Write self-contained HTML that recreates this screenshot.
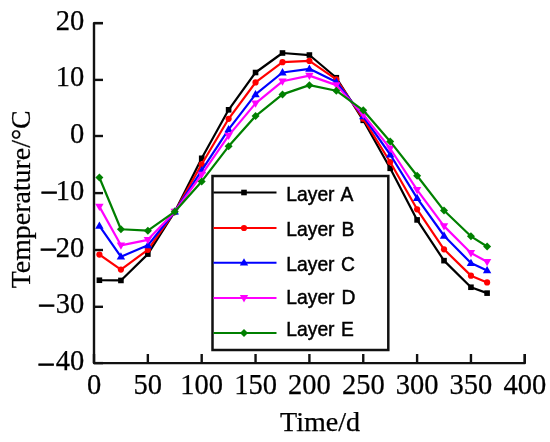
<!DOCTYPE html>
<html><head><meta charset="utf-8"><style>
html,body{margin:0;padding:0;background:#fff;}
body{width:550px;height:442px;overflow:hidden;}
svg{display:block;}
.w{width:550px;height:442px;}
.s{font-family:"Liberation Serif","Times New Roman",serif;font-size:28.5px;fill:#000;stroke:#000;stroke-width:0.25px;}
.m{stroke-width:0.9px;}
.l{font-family:"Liberation Sans",Arial,sans-serif;font-size:19.3px;fill:#000;stroke:#000;stroke-width:0.45px;}
.t{font-family:"Liberation Serif","Times New Roman",serif;font-size:27.9px;fill:#000;stroke:#000;stroke-width:0.25px;}
</style></head><body>
<div class="w"><svg width="550" height="442" viewBox="0 0 550 442"><rect width="550" height="442" fill="#fff"/>
<polyline points="99.39,280.23 120.92,280.45 147.85,254.09 174.77,211.71 201.70,158.29 228.62,109.80 255.55,72.51 282.48,52.99 309.40,55.03 336.32,77.72 363.25,120.32 390.18,168.31 417.10,219.91 444.02,260.65 470.95,287.24 487.10,293.13" fill="none" stroke="#000000" stroke-width="2.2" stroke-linejoin="round"/>
<rect x="96.59" y="277.43" width="5.60" height="5.60" fill="#000000"/>
<rect x="118.12" y="277.65" width="5.60" height="5.60" fill="#000000"/>
<rect x="145.05" y="251.29" width="5.60" height="5.60" fill="#000000"/>
<rect x="171.97" y="208.91" width="5.60" height="5.60" fill="#000000"/>
<rect x="198.90" y="155.49" width="5.60" height="5.60" fill="#000000"/>
<rect x="225.82" y="107.00" width="5.60" height="5.60" fill="#000000"/>
<rect x="252.75" y="69.71" width="5.60" height="5.60" fill="#000000"/>
<rect x="279.68" y="50.19" width="5.60" height="5.60" fill="#000000"/>
<rect x="306.60" y="52.23" width="5.60" height="5.60" fill="#000000"/>
<rect x="333.52" y="74.92" width="5.60" height="5.60" fill="#000000"/>
<rect x="360.45" y="117.52" width="5.60" height="5.60" fill="#000000"/>
<rect x="387.38" y="165.51" width="5.60" height="5.60" fill="#000000"/>
<rect x="414.30" y="217.11" width="5.60" height="5.60" fill="#000000"/>
<rect x="441.22" y="257.85" width="5.60" height="5.60" fill="#000000"/>
<rect x="468.15" y="284.44" width="5.60" height="5.60" fill="#000000"/>
<rect x="484.30" y="290.33" width="5.60" height="5.60" fill="#000000"/>
<polyline points="99.39,254.54 120.92,269.59 147.85,249.79 174.77,211.71 201.70,164.29 228.62,118.80 255.55,82.41 282.48,62.21 309.40,60.91 336.32,79.30 363.25,118.63 390.18,162.03 417.10,209.33 444.02,249.33 470.95,275.64 487.10,282.43" fill="none" stroke="#ff0000" stroke-width="2.2" stroke-linejoin="round"/>
<circle cx="99.39" cy="254.54" r="3.1" fill="#ff0000"/>
<circle cx="120.92" cy="269.59" r="3.1" fill="#ff0000"/>
<circle cx="147.85" cy="249.79" r="3.1" fill="#ff0000"/>
<circle cx="174.77" cy="211.71" r="3.1" fill="#ff0000"/>
<circle cx="201.70" cy="164.29" r="3.1" fill="#ff0000"/>
<circle cx="228.62" cy="118.80" r="3.1" fill="#ff0000"/>
<circle cx="255.55" cy="82.41" r="3.1" fill="#ff0000"/>
<circle cx="282.48" cy="62.21" r="3.1" fill="#ff0000"/>
<circle cx="309.40" cy="60.91" r="3.1" fill="#ff0000"/>
<circle cx="336.32" cy="79.30" r="3.1" fill="#ff0000"/>
<circle cx="363.25" cy="118.63" r="3.1" fill="#ff0000"/>
<circle cx="390.18" cy="162.03" r="3.1" fill="#ff0000"/>
<circle cx="417.10" cy="209.33" r="3.1" fill="#ff0000"/>
<circle cx="444.02" cy="249.33" r="3.1" fill="#ff0000"/>
<circle cx="470.95" cy="275.64" r="3.1" fill="#ff0000"/>
<circle cx="487.10" cy="282.43" r="3.1" fill="#ff0000"/>
<polyline points="99.39,225.96 120.92,256.69 147.85,245.32 174.77,211.71 201.70,170.40 228.62,129.38 255.55,94.30 282.48,72.51 309.40,68.83 336.32,82.02 363.25,116.36 390.18,154.50 417.10,198.18 444.02,235.75 470.95,263.03 487.10,270.44" fill="none" stroke="#0000ff" stroke-width="2.2" stroke-linejoin="round"/>
<polygon points="99.39,221.56 103.59,228.86 95.19,228.86" fill="#0000ff"/>
<polygon points="120.92,252.29 125.12,259.59 116.72,259.59" fill="#0000ff"/>
<polygon points="147.85,240.92 152.05,248.22 143.65,248.22" fill="#0000ff"/>
<polygon points="174.77,207.31 178.97,214.61 170.57,214.61" fill="#0000ff"/>
<polygon points="201.70,166.00 205.90,173.30 197.50,173.30" fill="#0000ff"/>
<polygon points="228.62,124.98 232.82,132.28 224.43,132.28" fill="#0000ff"/>
<polygon points="255.55,89.89 259.75,97.20 251.35,97.20" fill="#0000ff"/>
<polygon points="282.48,68.11 286.68,75.41 278.28,75.41" fill="#0000ff"/>
<polygon points="309.40,64.43 313.60,71.73 305.20,71.73" fill="#0000ff"/>
<polygon points="336.32,77.62 340.52,84.92 332.12,84.92" fill="#0000ff"/>
<polygon points="363.25,111.96 367.45,119.26 359.05,119.26" fill="#0000ff"/>
<polygon points="390.18,150.10 394.38,157.40 385.98,157.40" fill="#0000ff"/>
<polygon points="417.10,193.78 421.30,201.08 412.90,201.08" fill="#0000ff"/>
<polygon points="444.02,231.35 448.22,238.65 439.82,238.65" fill="#0000ff"/>
<polygon points="470.95,258.63 475.15,265.93 466.75,265.93" fill="#0000ff"/>
<polygon points="487.10,266.04 491.30,273.34 482.90,273.34" fill="#0000ff"/>
<polyline points="99.39,206.61 120.92,245.32 147.85,239.83 174.77,211.71 201.70,174.64 228.62,135.60 255.55,103.35 282.48,81.28 309.40,75.62 336.32,85.13 363.25,114.66 390.18,148.50 417.10,189.81 444.02,226.13 470.95,253.01 487.10,261.78" fill="none" stroke="#ff00ff" stroke-width="2.2" stroke-linejoin="round"/>
<polygon points="99.39,211.01 103.59,203.71 95.19,203.71" fill="#ff00ff"/>
<polygon points="120.92,249.72 125.12,242.42 116.72,242.42" fill="#ff00ff"/>
<polygon points="147.85,244.23 152.05,236.93 143.65,236.93" fill="#ff00ff"/>
<polygon points="174.77,216.11 178.97,208.81 170.57,208.81" fill="#ff00ff"/>
<polygon points="201.70,179.04 205.90,171.74 197.50,171.74" fill="#ff00ff"/>
<polygon points="228.62,140.00 232.82,132.70 224.43,132.70" fill="#ff00ff"/>
<polygon points="255.55,107.75 259.75,100.45 251.35,100.45" fill="#ff00ff"/>
<polygon points="282.48,85.68 286.68,78.38 278.28,78.38" fill="#ff00ff"/>
<polygon points="309.40,80.02 313.60,72.72 305.20,72.72" fill="#ff00ff"/>
<polygon points="336.32,89.53 340.52,82.23 332.12,82.23" fill="#ff00ff"/>
<polygon points="363.25,119.06 367.45,111.76 359.05,111.76" fill="#ff00ff"/>
<polygon points="390.18,152.90 394.38,145.60 385.98,145.60" fill="#ff00ff"/>
<polygon points="417.10,194.21 421.30,186.91 412.90,186.91" fill="#ff00ff"/>
<polygon points="444.02,230.53 448.22,223.23 439.82,223.23" fill="#ff00ff"/>
<polygon points="470.95,257.41 475.15,250.11 466.75,250.11" fill="#ff00ff"/>
<polygon points="487.10,266.18 491.30,258.88 482.90,258.88" fill="#ff00ff"/>
<polyline points="99.39,177.47 120.92,229.25 147.85,230.66 174.77,211.71 201.70,181.43 228.62,146.35 255.55,116.08 282.48,94.41 309.40,85.13 336.32,90.73 363.25,110.31 390.18,141.43 417.10,175.78 444.02,210.57 470.95,236.32 487.10,246.50" fill="none" stroke="#008000" stroke-width="2.2" stroke-linejoin="round"/>
<polygon points="99.39,173.47 103.39,177.47 99.39,181.47 95.39,177.47" fill="#008000"/>
<polygon points="120.92,225.25 124.92,229.25 120.92,233.25 116.92,229.25" fill="#008000"/>
<polygon points="147.85,226.66 151.85,230.66 147.85,234.66 143.85,230.66" fill="#008000"/>
<polygon points="174.77,207.71 178.77,211.71 174.77,215.71 170.77,211.71" fill="#008000"/>
<polygon points="201.70,177.43 205.70,181.43 201.70,185.43 197.70,181.43" fill="#008000"/>
<polygon points="228.62,142.35 232.62,146.35 228.62,150.35 224.62,146.35" fill="#008000"/>
<polygon points="255.55,112.08 259.55,116.08 255.55,120.08 251.55,116.08" fill="#008000"/>
<polygon points="282.48,90.41 286.48,94.41 282.48,98.41 278.48,94.41" fill="#008000"/>
<polygon points="309.40,81.13 313.40,85.13 309.40,89.13 305.40,85.13" fill="#008000"/>
<polygon points="336.32,86.73 340.32,90.73 336.32,94.73 332.32,90.73" fill="#008000"/>
<polygon points="363.25,106.31 367.25,110.31 363.25,114.31 359.25,110.31" fill="#008000"/>
<polygon points="390.18,137.43 394.18,141.43 390.18,145.43 386.18,141.43" fill="#008000"/>
<polygon points="417.10,171.78 421.10,175.78 417.10,179.78 413.10,175.78" fill="#008000"/>
<polygon points="444.02,206.57 448.02,210.57 444.02,214.57 440.02,210.57" fill="#008000"/>
<polygon points="470.95,232.32 474.95,236.32 470.95,240.32 466.95,236.32" fill="#008000"/>
<polygon points="487.10,242.50 491.10,246.50 487.10,250.50 483.10,246.50" fill="#008000"/>
<path d="M103.00,23.1 H94.00 V363.1 H524.80 V354" fill="none" stroke="#111" stroke-width="2.4" stroke-linejoin="round"/>
<line x1="94.00" y1="363.10" x2="103.00" y2="363.10" stroke="#111" stroke-width="2.4"/>
<text class="s" x="84.3" y="370.12" text-anchor="end"><tspan class="m" dy="1.5">–</tspan><tspan dx="2.6" dy="-1.5">40</tspan></text>
<line x1="94.00" y1="306.80" x2="103.00" y2="306.80" stroke="#111" stroke-width="2.4"/>
<text class="s" x="84.3" y="313.35" text-anchor="end"><tspan class="m" dy="0.05">–</tspan><tspan dx="2.0" dy="-0.05">30</tspan></text>
<line x1="94.00" y1="250.00" x2="103.00" y2="250.00" stroke="#111" stroke-width="2.4"/>
<text class="s" x="84.3" y="256.58" text-anchor="end"><tspan class="m" dy="0.7">–</tspan><tspan dx="0.4" dy="-0.7">20</tspan></text>
<line x1="94.00" y1="193.10" x2="103.00" y2="193.10" stroke="#111" stroke-width="2.4"/>
<text class="s" x="84.3" y="199.81" text-anchor="end"><tspan class="m" dy="0.0">–</tspan><tspan dx="-0.4" dy="-0.0">10</tspan></text>
<line x1="94.00" y1="136.00" x2="103.00" y2="136.00" stroke="#111" stroke-width="2.4"/>
<text class="s" x="84.3" y="143.04" text-anchor="end">0</text>
<line x1="94.00" y1="79.90" x2="103.00" y2="79.90" stroke="#111" stroke-width="2.4"/>
<text class="s" x="84.3" y="86.27" text-anchor="end">10</text>
<line x1="94.00" y1="23.10" x2="103.00" y2="23.10" stroke="#111" stroke-width="2.4"/>
<text class="s" x="84.3" y="29.50" text-anchor="end">20</text>
<line x1="94.00" y1="363.1" x2="94.00" y2="354" stroke="#111" stroke-width="2.4"/>
<text class="s" x="94.00" y="394.2" text-anchor="middle">0</text>
<line x1="147.85" y1="363.1" x2="147.85" y2="354" stroke="#111" stroke-width="2.4"/>
<text class="s" x="147.85" y="394.2" text-anchor="middle">50</text>
<line x1="201.70" y1="363.1" x2="201.70" y2="354" stroke="#111" stroke-width="2.4"/>
<text class="s" x="201.70" y="394.2" text-anchor="middle">100</text>
<line x1="255.55" y1="363.1" x2="255.55" y2="354" stroke="#111" stroke-width="2.4"/>
<text class="s" x="255.55" y="394.2" text-anchor="middle">150</text>
<line x1="309.40" y1="363.1" x2="309.40" y2="354" stroke="#111" stroke-width="2.4"/>
<text class="s" x="309.40" y="394.2" text-anchor="middle">200</text>
<line x1="363.25" y1="363.1" x2="363.25" y2="354" stroke="#111" stroke-width="2.4"/>
<text class="s" x="363.25" y="394.2" text-anchor="middle">250</text>
<line x1="417.10" y1="363.1" x2="417.10" y2="354" stroke="#111" stroke-width="2.4"/>
<text class="s" x="417.10" y="394.2" text-anchor="middle">300</text>
<line x1="470.95" y1="363.1" x2="470.95" y2="354" stroke="#111" stroke-width="2.4"/>
<text class="s" x="470.95" y="394.2" text-anchor="middle">350</text>
<line x1="524.80" y1="363.1" x2="524.80" y2="354" stroke="#111" stroke-width="2.4"/>
<text class="s" x="524.80" y="394.2" text-anchor="middle">400</text>
<text class="s" x="280" y="430.5" style="font-size:28.1px">Time/d</text>
<text class="t" transform="translate(29.9,288.3) rotate(-90)">Temperature/°C</text>
<rect x="212.5" y="176" width="175.8" height="174" fill="#fff" stroke="#111" stroke-width="2.5"/>
<line x1="213.5" y1="192.5" x2="276.5" y2="192.5" stroke="#000000" stroke-width="2.1"/>
<rect x="241.20" y="189.70" width="5.60" height="5.60" fill="#000000"/>
<text class="l" x="286.3" y="201.00">Layer</text>
<text class="l" x="340.6" y="201.00">A</text>
<line x1="213.5" y1="228.0" x2="276.5" y2="228.0" stroke="#ff0000" stroke-width="2.1"/>
<circle cx="244.00" cy="228.00" r="3.1" fill="#ff0000"/>
<text class="l" x="286.3" y="235.90">Layer</text>
<text class="l" x="341.6" y="235.90">B</text>
<line x1="213.5" y1="262.7" x2="276.5" y2="262.7" stroke="#0000ff" stroke-width="2.1"/>
<polygon points="244.00,258.30 248.20,265.60 239.80,265.60" fill="#0000ff"/>
<text class="l" x="286.3" y="270.50">Layer</text>
<text class="l" x="340.9" y="270.50">C</text>
<line x1="213.5" y1="298.0" x2="276.5" y2="298.0" stroke="#ff00ff" stroke-width="2.1"/>
<polygon points="244.00,302.40 248.20,295.10 239.80,295.10" fill="#ff00ff"/>
<text class="l" x="286.3" y="303.50">Layer</text>
<text class="l" x="341.4" y="303.50">D</text>
<line x1="213.5" y1="333.0" x2="276.5" y2="333.0" stroke="#008000" stroke-width="2.1"/>
<polygon points="244.00,329.00 248.00,333.00 244.00,337.00 240.00,333.00" fill="#008000"/>
<text class="l" x="286.3" y="336.00">Layer</text>
<text class="l" x="341.0" y="336.00">E</text>
</svg></div></body></html>
